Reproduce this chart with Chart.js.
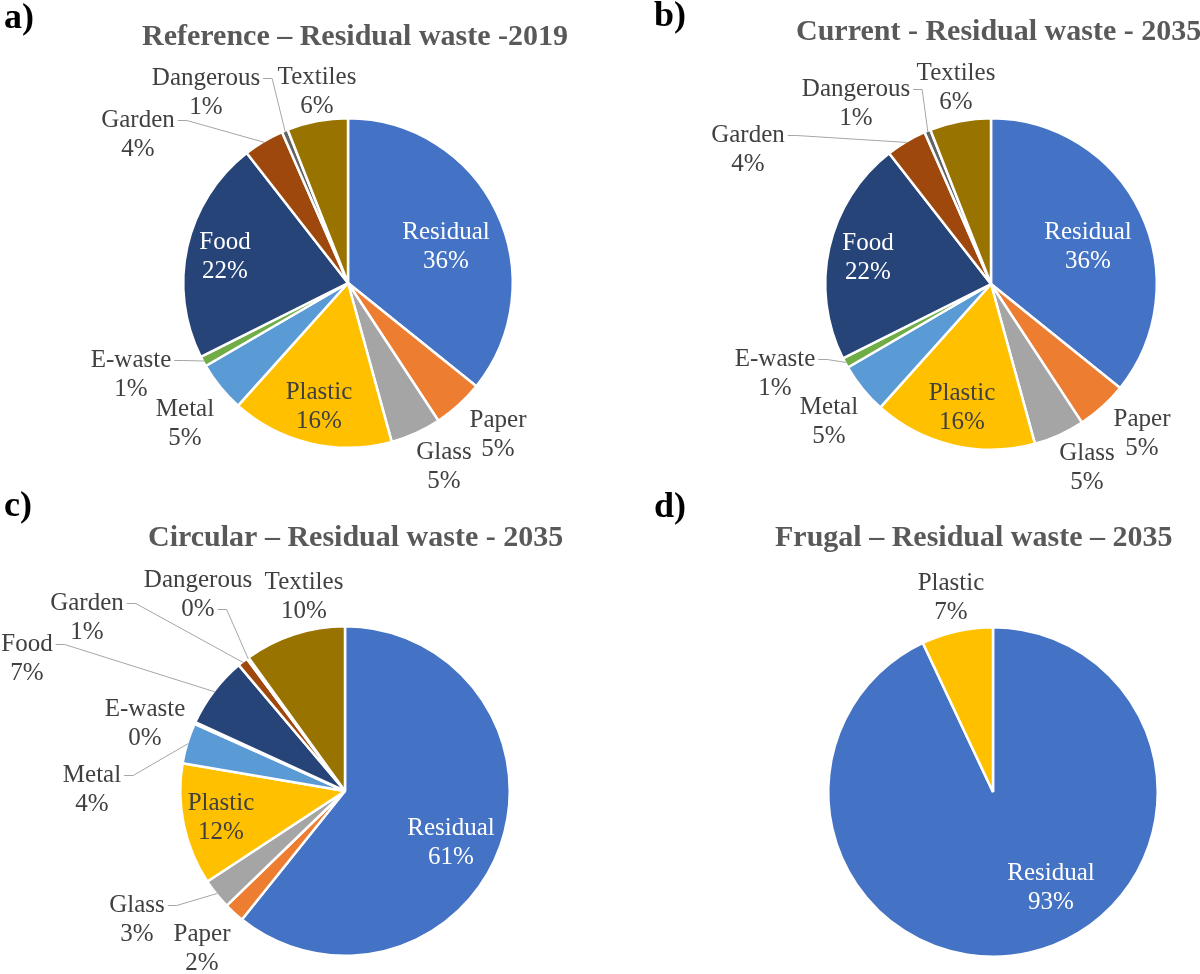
<!DOCTYPE html>
<html><head><meta charset="utf-8">
<script src="https://cdn.jsdelivr.net/npm/chart.js@4.4.1/dist/chart.umd.min.js"></script>
<style>
html,body{margin:0;padding:0;background:#fff;}
#wrap{position:relative;width:1200px;height:974px;overflow:hidden;background:#fff;}
.panel{position:absolute;width:600px;}
canvas{display:block;}
</style></head><body>
<div id="wrap">
<div class="panel" style="left:0;top:0;height:505px"><canvas id="cA" width="600" height="505"></canvas></div>
<div class="panel" style="left:600px;top:0;height:505px"><canvas id="cB" width="600" height="505"></canvas></div>
<div class="panel" style="left:0;top:487px;height:487px"><canvas id="cC" width="600" height="487"></canvas></div>
<div class="panel" style="left:600px;top:487px;height:487px"><canvas id="cD" width="600" height="487"></canvas></div>
</div>
<script>
// ---------- DATA ----------
const categories = ['Residual','Paper','Glass','Plastic','Metal','E-waste','Food','Garden','Dangerous','Textiles'];
const valuesReference2019 = [36, 5, 5, 16, 5, 1, 22, 4, 0.6, 6];
const valuesCurrent2035   = [36, 5, 5, 16, 5, 1, 22, 4, 0.6, 6];
const valuesCircular2035  = [61, 2, 3, 12, 4, 0.2, 7, 1, 0.2, 10];
const categoriesFrugal    = ['Residual','Plastic'];
const valuesFrugal2035    = [93, 7];

const panelLetters = ['a)','b)','c)','d)'];
const panelTitles = [
  'Reference \u2013 Residual waste -2019',
  'Current - Residual waste - 2035',
  'Circular \u2013 Residual waste - 2035',
  'Frugal \u2013 Residual waste \u2013 2035'
];

// ---------- STYLE ----------
const categoryColors = {
  'Residual':'#4472C4','Paper':'#ED7D31','Glass':'#A5A5A5','Plastic':'#FFC000',
  'Metal':'#5B9BD5','E-waste':'#70AD47','Food':'#264478','Garden':'#9E480E',
  'Dangerous':'#636363','Textiles':'#997300'
};
const SERIF = '"Liberation Serif","Times New Roman",serif';
const DARK = '#404040', WHITE = '#ffffff';

// label placement offsets relative to the pie centre (layout only)
const placeA = {
  'Residual':{dx:98,dy:-36,c:WHITE}, 'Paper':{dx:150,dy:152,c:DARK}, 'Glass':{dx:96,dy:184,c:DARK},
  'Plastic':{dx:-29,dy:124,c:DARK}, 'Metal':{dx:-163,dy:141,c:DARK}, 'E-waste':{dx:-217,dy:92,c:DARK,leader:0},
  'Food':{dx:-123,dy:-26,c:WHITE}, 'Garden':{dx:-210,dy:-148,c:DARK,leader:0},
  'Dangerous':{dx:-142,dy:-190,c:DARK,leader:0}, 'Textiles':{dx:-31,dy:-191,c:DARK}
};
const placeB = {
  'Residual':{dx:97,dy:-37,c:WHITE}, 'Paper':{dx:151,dy:150,c:DARK}, 'Glass':{dx:96,dy:184,c:DARK},
  'Plastic':{dx:-29,dy:124,c:DARK}, 'Metal':{dx:-162,dy:138,c:DARK}, 'E-waste':{dx:-216,dy:90,c:DARK,leader:0},
  'Food':{dx:-123,dy:-26,c:WHITE}, 'Garden':{dx:-243,dy:-134,c:DARK,leader:0},
  'Dangerous':{dx:-135,dy:-180,c:DARK,leader:0}, 'Textiles':{dx:-35,dy:-196,c:DARK}
};
const placeC = {
  'Residual':{dx:106,dy:52,c:WHITE}, 'Paper':{dx:-143,dy:158,c:DARK}, 'Glass':{dx:-208,dy:129,c:DARK,leader:0},
  'Plastic':{dx:-124,dy:27,c:DARK}, 'Metal':{dx:-253,dy:-1,c:DARK,leader:0}, 'E-waste':{dx:-200,dy:-67,c:DARK},
  'Food':{dx:-318,dy:-132,c:DARK,leader:0}, 'Garden':{dx:-258,dy:-173,c:DARK,leader:0},
  'Dangerous':{dx:-147,dy:-196,c:DARK,leader:1}, 'Textiles':{dx:-41,dy:-194,c:DARK}
};
const placeD = {
  'Residual':{dx:58,dy:96,c:WHITE}, 'Plastic':{dx:-42,dy:-194,c:DARK}
};

// pie centre & radius inside each panel (layout only)
const pieGeom = [
  {cx:348, cy:283, r:166, w:600, h:505},
  {cx:391, cy:284, r:167, w:600, h:505},
  {cx:345, cy:304, r:166, w:600, h:487},
  {cx:393, cy:305, r:166, w:600, h:487}
];
const titleGeom = [
  {x:142, y:37, ly:19}, {x:196, y:32, ly:17}, {x:148, y:51, ly:20}, {x:175, y:51, ly:21}
];
const letterX = [4, 54, 4, 54];

// ---------- PLUGINS ----------
const panelTextPlugin = {
  id:'panelText',
  afterDraw(chart, args, o){
    const ctx = chart.ctx;
    ctx.save();
    ctx.textBaseline = 'middle';
    ctx.textAlign = 'left';
    ctx.fillStyle = '#000';
    ctx.font = 'bold 36px ' + SERIF;
    ctx.fillText(o.letter, o.lx, o.ly);
    ctx.fillStyle = '#595959';
    ctx.font = 'bold 30px ' + SERIF;
    ctx.fillText(o.title, o.tx, o.ty);
    ctx.restore();
  }
};

const sliceLabelPlugin = {
  id:'sliceLabels',
  afterDatasetsDraw(chart, args, o){
    const ctx = chart.ctx;
    const meta = chart.getDatasetMeta(0);
    const labels = chart.data.labels;
    const data = chart.data.datasets[0].data;
    const lh = 29;
    ctx.save();
    ctx.font = '25px ' + SERIF;
    ctx.textBaseline = 'middle';
    ctx.textAlign = 'center';
    meta.data.forEach((arc, i) => {
      const p = o.placement[labels[i]];
      if (!p) return;
      const g = arc.getProps(['x','y','startAngle','endAngle','outerRadius'], true);
      const lx = g.x + p.dx, ly = g.y + p.dy;
      const lines = [labels[i], Math.round(data[i]) + '%'];
      const ys = [ly - lh/2, ly + lh/2];
      if (p.leader !== undefined) {
        const mid = (g.startAngle + g.endAngle) / 2;
        const ax = g.x + Math.cos(mid) * (g.outerRadius - 1);
        const ay = g.y + Math.sin(mid) * (g.outerRadius - 1);
        const w = ctx.measureText(lines[p.leader]).width;
        const side = ax > lx ? 1 : -1;
        const sx = lx + side * (w/2 + 3);
        const sy = ys[p.leader];
        ctx.strokeStyle = '#A6A6A6';
        ctx.lineWidth = 1;
        ctx.beginPath();
        ctx.moveTo(sx, sy);
        ctx.lineTo(sx + side * 9, sy);
        ctx.lineTo(ax, ay);
        ctx.stroke();
      }
      ctx.fillStyle = p.c;
      lines.forEach((t, k) => ctx.fillText(t, lx, ys[k]));
    });
    ctx.restore();
  }
};

// ---------- CHARTS ----------
function makePie(id, idx, labels, values, placement){
  const g = pieGeom[idx], t = titleGeom[idx];
  return new Chart(document.getElementById(id), {
    type:'pie',
    data:{
      labels: labels,
      datasets:[{
        data: values,
        backgroundColor: labels.map(l => categoryColors[l]),
        borderColor:'#ffffff',
        borderWidth:2.5
      }]
    },
    options:{
      responsive:false,
      animation:false,
      layout:{padding:{
        left:g.cx - g.r, right:g.w - (g.cx + g.r),
        top:g.cy - g.r, bottom:g.h - (g.cy + g.r)
      }},
      plugins:{
        legend:{display:false},
        tooltip:{enabled:false},
        title:{display:false},
        sliceLabels:{placement: placement},
        panelText:{letter: panelLetters[idx], lx: letterX[idx], ly: t.ly,
                   title: panelTitles[idx], tx: t.x, ty: t.y}
      }
    },
    plugins:[sliceLabelPlugin, panelTextPlugin]
  });
}

makePie('cA', 0, categories, valuesReference2019, placeA);
makePie('cB', 1, categories, valuesCurrent2035, placeB);
makePie('cC', 2, categories, valuesCircular2035, placeC);
makePie('cD', 3, categoriesFrugal, valuesFrugal2035, placeD);
</script>
</body></html>
